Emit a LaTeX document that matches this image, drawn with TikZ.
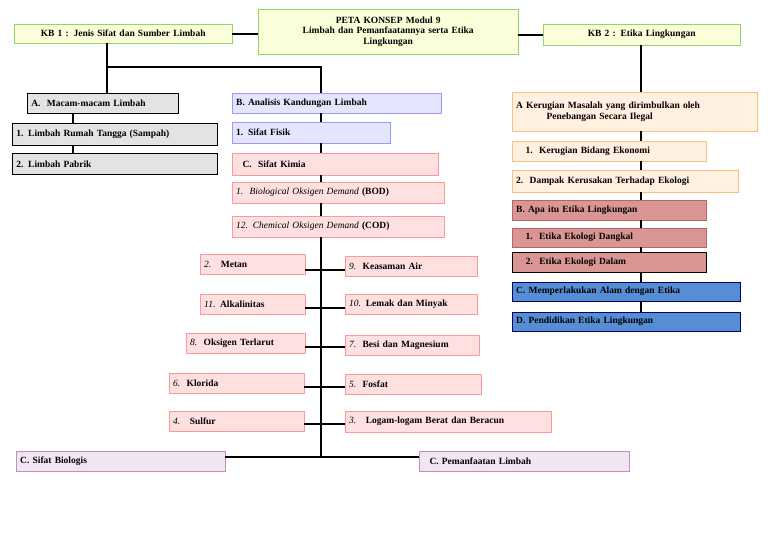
\documentclass[tikz,border=0pt]{standalone}
\usepackage{fontspec}
\setmainfont{Liberation Serif}
\definecolor{dbf}{HTML}{558ED5}
\definecolor{rof}{HTML}{D99694}
\begin{document}
\begin{tikzpicture}[x=1pt,y=-1pt,
 ln/.style={line width=1.8pt,black},
 g/.style={fill=green!12!yellow!15,draw=green!45!olive!60},
 gr/.style={fill=gray!22,draw=black,line width=0.6pt},
 bl/.style={fill=blue!10,draw=blue!40},
 pk/.style={fill=red!12,draw=red!40},
 or/.style={fill=orange!12,draw=orange!50},
 ro/.style={fill=rof,draw=red!50!black!60},
 rd/.style={fill=rof,draw=black,line width=0.9pt},
 db/.style={fill=dbf,draw=blue!40!black},
 vi/.style={fill=violet!10,draw=violet!45}]
\useasboundingbox (0,0) rectangle (768,543);
\newcommand\bx[8][left]{%
 \node[#7,anchor=north west,minimum width=#4-#2,minimum height=#5-#3,inner sep=0pt,
   text width=#4-#2-8,align=#1,font=\bfseries\fontsize{9.5}{10.5}\selectfont,
   inner xsep=4pt] (#8) at (#2,#3) {#6};}
\bx[center]{14}{24}{232}{43}{KB 1 : Jenis Sifat dan Sumber Limbah}{g}{kb1}
\bx[center]{258}{9}{518}{54}{PETA KONSEP Modul 9\\Limbah dan Pemanfaatannya serta Etika\\Lingkungan}{g}{title}
\bx[center]{543}{24}{740}{45}{KB 2 : Etika Lingkungan}{g}{kb2}
\bx{27}{93}{178}{113}{A.\ \ Macam-macam Limbah}{gr}{macam}
\bx{12}{123}{217}{145}{1. Limbah Rumah Tangga (Sampah)}{gr}{rumah}
\bx{12}{153}{217}{174}{2. Limbah Pabrik}{gr}{pabrik}
\bx{232}{93}{441}{113}{B. Analisis Kandungan Limbah}{bl}{analisis}
\bx{232}{122}{390}{143}{1. Sifat Fisik}{bl}{fisik}
\bx{232}{153}{438}{175}{\ \ C.\ \ Sifat Kimia}{pk}{kimia}
\bx{232}{182}{444}{203}{\mdseries\itshape 1.\ \ Biological Oksigen Demand \upshape\bfseries(BOD)}{pk}{bod}
\bx{232}{216}{444}{237}{\mdseries\itshape 12. Chemical Oksigen Demand \upshape\bfseries(COD)}{pk}{cod}
\bx{200}{254}{305}{274}{{\mdseries\itshape 2.}\ \ \ Metan}{pk}{metan}
\bx{345}{256}{477}{276}{{\mdseries\itshape 9.}\ \ Keasaman Air}{pk}{keasaman}
\bx{200}{294}{305}{314}{{\mdseries\itshape 11.} Alkalinitas}{pk}{alkali}
\bx{345}{294}{477}{314}{{\mdseries\itshape 10.} Lemak dan Minyak}{pk}{lemak}
\bx{186}{333}{305}{353}{{\mdseries\itshape 8.}\ \ Oksigen Terlarut}{pk}{oksigen}
\bx{345}{335}{479}{355}{{\mdseries\itshape 7.}\ \ Besi dan Magnesium}{pk}{besi}
\bx{169}{373}{304}{393}{{\mdseries\itshape 6.}\ \ Klorida}{pk}{klorida}
\bx{345}{374}{481}{394}{{\mdseries\itshape 5.}\ \ Fosfat}{pk}{fosfat}
\bx{169}{411}{304}{431}{{\mdseries\itshape 4.}\ \ \ Sulfur}{pk}{sulfur}
\bx{345}{411}{551}{432}{{\mdseries\itshape 3.}\ \ \ Logam-logam Berat dan Beracun}{pk}{logam}
\bx{16}{451}{225}{471}{C. Sifat Biologis}{vi}{biologis}
\bx{419}{451}{629}{471}{\ \ C. Pemanfaatan Limbah}{vi}{pemanfaatan}
\bx{512}{92}{757}{131}{A Kerugian Masalah yang dirimbulkan oleh\\\hspace*{3.2em}Penebangan Secara Ilegal}{or}{akerugian}
\bx{512}{141}{706}{161}{\ \ \ 1.\ \ Kerugian Bidang Ekonomi}{or}{ekonomi}
\bx{512}{170}{738}{192}{2.\ \ Dampak Kerusakan Terhadap Ekologi}{or}{dampak}
\bx{512}{200}{706}{220}{B. Apa itu Etika Lingkungan}{ro}{apa}
\bx{512}{228}{706}{247}{\ \ \ 1.\ \ Etika Ekologi Dangkal}{ro}{dangkal}
\bx{512}{252}{706}{272}{\ \ \ 2.\ \ Etika Ekologi Dalam}{rd}{dalam}
\bx{512}{282}{740}{301}{C. Memperlakukan Alam dengan Etika}{db}{memper}
\bx{512}{312}{740}{331}{D. Pendidikan Etika Lingkungan}{db}{pendidikan}
\coordinate (j1) at (107,67);
\coordinate (j2) at (321,67);
\coordinate (sb) at (321,457);
\draw[ln] (kb1.east) -- (kb1.east -| title.west);
\draw[ln] (title.east |- kb2.west) -- (kb2.west);
\draw[ln] (kb1.south -| j1) -- (j1) -- (j2) -- (analisis.north -| j2);
\draw[ln] (j1) -- (macam.north -| j1);
\draw[ln] (macam.south -| 73,0) -- (rumah.north -| 73,0);
\draw[ln] (rumah.south -| 73,0) -- (pabrik.north -| 73,0);
\draw[ln] (analisis.south -| j2) -- (fisik.north -| j2);
\draw[ln] (fisik.south -| j2) -- (kimia.north -| j2);
\draw[ln] (kimia.south -| j2) -- (bod.north -| j2);
\draw[ln] (bod.south -| j2) -- (cod.north -| j2);
\draw[ln] (cod.south -| j2) -- (sb);
\draw[ln] (metan.east |- 0,270) -- (keasaman.west |- 0,270);
\draw[ln] (alkali.east |- 0,308) -- (lemak.west |- 0,308);
\draw[ln] (oksigen.east |- 0,347) -- (besi.west |- 0,347);
\draw[ln] (klorida.east |- 0,387) -- (fosfat.west |- 0,387);
\draw[ln] (sulfur.east |- 0,424) -- (logam.west |- 0,424);
\draw[ln] (biologis.east |- sb) -- (pemanfaatan.west |- sb);
\draw[ln] (kb2.south -| 641,0) -- (akerugian.north -| 641,0);
\foreach \a/\b in {akerugian/ekonomi,ekonomi/dampak,dampak/apa,apa/dangkal,dangkal/dalam,dalam/memper,memper/pendidikan}
  \draw[ln] (\a.south -| 641,0) -- (\b.north -| 641,0);
\end{tikzpicture}
\end{document}
